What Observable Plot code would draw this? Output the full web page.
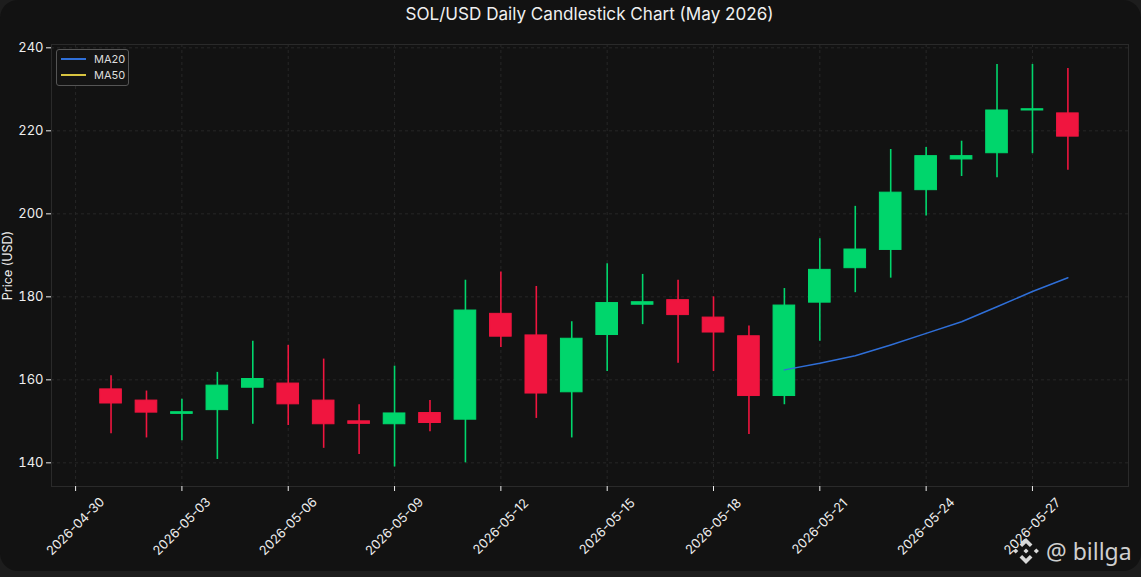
<!DOCTYPE html>
<html>
<head>
<meta charset="utf-8">
<script src="https://cdn.jsdelivr.net/npm/d3@7"></script>
<script src="https://cdn.jsdelivr.net/npm/@observablehq/plot@0.6"></script>
<style>
html,body{margin:0;padding:0;background:#1d1d1d;width:1141px;height:577px;overflow:hidden}
#page{position:relative;width:1141px;height:571px;background:#121212;border-radius:18px;font-family:Inter,"Open Sans",sans-serif;color:#eee}
#title{position:absolute;left:51px;width:1077px;top:3px;text-align:center;font-size:17.1px;line-height:22px;color:#f0f0f0}
#chart{position:absolute;left:0;top:0}
#legend{position:absolute;left:56px;top:49px;width:71px;height:35px;border:1px solid #555;border-radius:3px;background:#141414;font-size:11px;color:#ddd}
#legend div{position:absolute;left:4px;display:flex;align-items:center;height:14px}
#legend i{display:inline-block;width:25px;height:1.5px;margin-right:8px}
#mark{position:absolute;left:1012px;top:537px;height:28px;display:flex;align-items:center;color:#cfcfcf;font-size:23px;font-family:"Noto Sans",sans-serif}
</style>
</head>
<body>
<div id="page">
<div id="chart"></div>
<div id="title">SOL/USD Daily Candlestick Chart (May 2026)</div>
<div id="legend"></div>
<div id="mark"><svg width="28" height="28" viewBox="-13 -13 26 26" style="margin-right:6px"><g fill="#d8d8d8"><path d="M0-12 6-6 3.6-3.6 0-7.2-3.6-3.6-6-6Z"/><path d="M0 12 6 6 3.6 3.6 0 7.2-3.6 3.6-6 6Z"/><path d="M0-2.4 2.4 0 0 2.4-2.4 0Z"/><path d="M-9.6-2.4-7.2 0-9.6 2.4-12 0Z"/><path d="M9.6-2.4 12 0 9.6 2.4 7.2 0Z"/></g></svg><span>@ billga</span></div>
</div>
<script>
const dates = ["2026-05-01","2026-05-02","2026-05-03","2026-05-04","2026-05-05","2026-05-06","2026-05-07","2026-05-08","2026-05-09","2026-05-10","2026-05-11","2026-05-12","2026-05-13","2026-05-14","2026-05-15","2026-05-16","2026-05-17","2026-05-18","2026-05-19","2026-05-20","2026-05-21","2026-05-22","2026-05-23","2026-05-24","2026-05-25","2026-05-26","2026-05-27","2026-05-28"];
const opens  = [157.7,155,151.8,152.7,158.1,159.1,155,150,149.3,152,150.4,175.9,170.7,157,170.8,178.1,179.2,175,170.5,156.1,178.6,186.9,191.3,205.7,213.1,214.6,224.9,224.2];
const closes = [154.3,152.1,152.2,158.6,160.2,154.1,149.3,149.4,151.9,149.6,176.7,170.4,156.7,169.9,178.5,178.7,175.6,171.4,156.1,177.9,186.5,191.4,205.1,213.9,213.9,224.9,225.2,218.6];
const highs  = [161,157.3,155.3,161.8,169.3,168.3,165,154,163.3,155,184,186,182.5,174,188,185.4,184,180,173,182,194,201.8,215.5,216,217.5,236,236,235];
const lows   = [147,146,145.3,140.8,149.3,149,143.5,142,139,147.5,140,167.8,150.7,146,162,173.3,164,162,146.8,154,169.3,181,184.5,199.5,209,208.7,214.5,210.5];
const ma20Dates = ["2026-05-20","2026-05-21","2026-05-22","2026-05-23","2026-05-24","2026-05-25","2026-05-26","2026-05-27","2026-05-28"];
const ma20Values = [162.4,164,165.8,168.4,171.2,174,177.6,181.3,184.6];
const tickDates = ["2026-04-30","2026-05-03","2026-05-06","2026-05-09","2026-05-12","2026-05-15","2026-05-18","2026-05-21","2026-05-24","2026-05-27"];
const yTicks = [140,160,180,200,220,240];
const GREEN = "#00d66c", RED = "#f0153f", BLUE = "#2f6fd8", YELLOW = "#d8c440", GRID = "#272727";
const DAY = 864e5, HALF = 0.305 * DAY;

const candles = dates.map((d,i)=>({date:new Date(d),open:opens[i],close:closes[i],high:highs[i],low:lows[i]}));
const ma20 = ma20Dates.map((d,i)=>({date:new Date(d),value:ma20Values[i]}));
const ticks = tickDates.map(d=>new Date(d));
const col = d => d.close >= d.open ? GREEN : RED;
const t0 = +new Date("2026-04-30");
const fmt = d3.utcFormat("%Y-%m-%d");

const chart = Plot.plot({
  width:1141, height:577,
  marginLeft:51, marginRight:13, marginTop:44, marginBottom:91,
  style:{background:"transparent",color:"#eee",fontFamily:'Inter,"Open Sans",sans-serif',fontSize:"12px"},
  x:{type:"utc",domain:[new Date(t0-0.68*DAY),new Date(t0+29.71*DAY)]},
  y:{domain:[134.3,240.8]},
  marks:[
    Plot.gridX(ticks,{x:d=>d,stroke:GRID,strokeOpacity:1,strokeDasharray:"3 3"}),
    Plot.gridY(yTicks,{y:d=>d,stroke:GRID,strokeOpacity:1,strokeDasharray:"3 3"}),
    Plot.frame({stroke:"#2a2a2a"}),
    Plot.axisX({ticks,tickFormat:()=>"",tickSize:5,stroke:"#eee",label:null}),
    Plot.text(ticks,{x:d=>d,text:d=>fmt(d),frameAnchor:"bottom",dy:40,rotate:-45,textAnchor:"middle",lineAnchor:"middle",fill:"#eee",fontSize:12.8}),
    Plot.axisY({ticks:yTicks,tickSize:5,tickPadding:3,stroke:"#eee",fill:"#eee",label:null,fontSize:13}),
    Plot.ruleX(candles,{x:"date",y1:"low",y2:"high",stroke:col,strokeWidth:1.6}),
    Plot.rect(candles,{x1:d=>new Date(+d.date-HALF),x2:d=>new Date(+d.date+HALF),y1:"open",y2:"close",fill:col,stroke:col,strokeWidth:1}),
    Plot.line(ma20,{x:"date",y:"value",stroke:BLUE,strokeWidth:1.5}),
    Plot.text(["Price (USD)"],{frameAnchor:"left",dx:-44,rotate:-90,textAnchor:"middle",fill:"#eee",fontSize:12.5})
  ]
});
document.getElementById("chart").append(chart);

const legendItems = [["MA20",BLUE],["MA50",YELLOW]];
const lg = document.getElementById("legend");
legendItems.forEach(([name,c],i)=>{
  const r = document.createElement("div");
  r.style.top = (2+i*16)+"px";
  r.innerHTML = `<i style="background:${c}"></i><span>${name}</span>`;
  lg.append(r);
});
</script>
</body>
</html>
